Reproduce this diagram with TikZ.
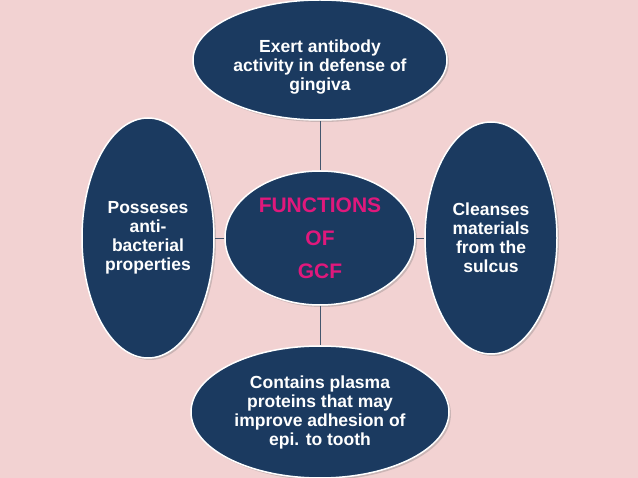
\documentclass[tikz,border=0pt]{standalone}
\usepackage{fontspec}
\setmainfont{Liberation Sans}
\usetikzlibrary{shadows,shapes.geometric}
\definecolor{bg}{HTML}{F2D2D2}
\definecolor{navy}{HTML}{1B3A60}
\definecolor{mag}{HTML}{E0187C}
\begin{document}
\begin{tikzpicture}[x=1pt,y=-1pt,
  oval/.style={ellipse,draw=white,line width=1.5pt,fill=navy,text=white,font=\bfseries\fontsize{17.5}{19}\selectfont,align=center,inner sep=0pt,drop shadow={shadow xshift=2pt,shadow yshift=-2pt,opacity=0.35}},
  link/.style={draw=navy!60!gray,line width=0.8pt}]
\useasboundingbox[fill=bg] (0,0) rectangle (638,478);
\node[oval,minimum width=254,minimum height=120] (t) at (320,60) {};
\node[text=white,font=\bfseries\fontsize{17.5}{19}\selectfont,align=center] (tt) at (320,67) {Exert antibody\\activity in defense of\\gingiva};
\node[oval,minimum width=258,minimum height=132] (b) at (320,412) {Contains plasma\\proteins that may\\improve adhesion of\\epi. to tooth};
\node[oval,minimum width=132,minimum height=240] (l) at (148,238) {Posseses\\anti-\\bacterial\\properties};
\node[oval,minimum width=132,minimum height=232] (r) at (491,238) {Cleanses\\materials\\from the\\sulcus};
\node[oval,minimum width=190,minimum height=134,text=mag,font=\bfseries\fontsize{21}{33}\selectfont] (c) at (320,238) {FUNCTIONS\\OF\\GCF};
\draw[link] (c) -- (t); \draw[link] (c) -- (b);
\draw[link] (c) -- (l); \draw[link] (c) -- (r);
\end{tikzpicture}
\end{document}
